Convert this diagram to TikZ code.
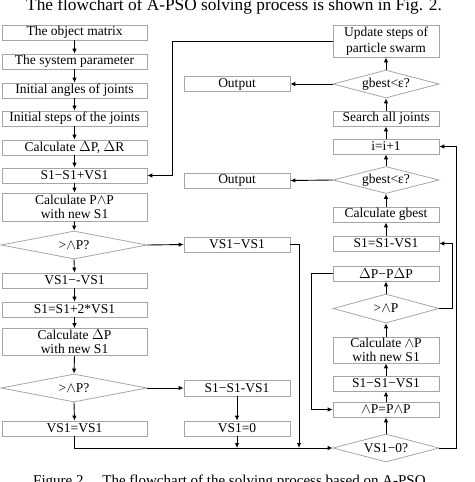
\documentclass[tikz,border=0pt]{standalone}
\usepackage{fontspec}
\setmainfont{Liberation Serif}
\usetikzlibrary{arrows.meta,shapes.geometric}
\begin{document}
\begin{tikzpicture}[x=1pt,y=-1pt,
  txt/.style={font=\fontsize{13.5}{14}\selectfont, text=black, align=center},
  box/.style={draw=gray!70, line width=0.8pt, inner sep=0pt, minimum width=145pt, minimum height=15pt, txt},
  mbox/.style={box, minimum width=106pt},
  dia/.style={diamond, draw=gray!70, line width=0.8pt, inner sep=0pt, minimum width=106pt, minimum height=28pt},
  arr/.style={-{Latex[length=5pt,width=4.5pt]}, line width=0.9pt, black},
  ln/.style={line width=0.9pt, black}]
\useasboundingbox (0,0) rectangle (474,482);
% title and caption (cropped in the reference)
\node[anchor=base west, inner sep=0pt, font=\fontsize{17.3}{20}\selectfont] (title) at (26,10)
  {The flowchart of A-PSO solving process is shown in Fig. 2.};
\node[anchor=base west, inner sep=0pt, font=\fontsize{15}{17}\selectfont] (cap) at (33,485)
  {Figure 2.\quad The flowchart of the solving process based on A-PSO};
% left column
\node[box] (a1) at (74.5,32.5) {The object matrix};
\node[box] (a2) at (74.5,61.5) {The system parameter};
\node[box] (a3) at (74.5,90.5) {Initial angles of joints};
\node[box] (a4) at (74.5,118.5) {Initial steps of the joints};
\node[box] (a5) at (74.5,147.5) {Calculate $\Delta$P, $\Delta$R};
\node[box] (a6) at (74.5,175.5) {S1−S1+VS1};
\node[box, minimum height=28pt] (a7) at (74.5,207) {Calculate P$\wedge$P\\with new S1};
\node[dia, minimum width=146pt, label={[txt]center:>$\wedge$P?}] (d1) at (74,245) {};
\node[box] (a8) at (74.5,280.5) {VS1−-VS1};
\node[box] (a9) at (74.5,309.5) {S1=S1+2*VS1};
\node[box, minimum height=27pt] (a10) at (74.5,342) {Calculate $\Delta$P\\with new S1};
\node[dia, minimum width=146pt, label={[txt]center:>$\wedge$P?}] (d2) at (74,388) {};
\node[box] (a11) at (74.5,428.5) {VS1=VS1};
% middle column
\node[mbox] (o1) at (237,84) {Output};
\node[mbox] (o2) at (237,180.5) {Output};
\node[mbox] (m1) at (237,244.5) {VS1−VS1};
\node[mbox, minimum height=16pt] (m2) at (237,388) {S1−S1-VS1};
\node[mbox] (m3) at (237,428.5) {VS1=0};
% right column
\node[mbox, minimum height=32pt, font=\fontsize{13.5}{16}\selectfont] (r1) at (386,41) {Update steps of\\particle swarm};
\node[dia, label={[txt]center:gbest<ε?}] (rd1) at (386,84) {};
\node[mbox] (r2) at (386,118.5) {Search all joints};
\node[mbox] (r3) at (386,146.5) {i=i+1};
\node[dia, minimum height=27pt, label={[txt]center:gbest<ε?}] (rd2) at (386,180) {};
\node[mbox] (r4) at (386,214.5) {Calculate gbest};
\node[mbox] (r5) at (386,243.5) {S1=S1-VS1};
\node[mbox] (r6) at (386,273.5) {$\Delta$P−P$\Delta$P};
\node[dia, minimum height=29pt, label={[txt]center:>$\wedge$P}] (rd3) at (386,308.5) {};
\node[mbox, minimum height=26pt] (r7) at (386,350) {Calculate $\wedge$P\\with new S1};
\node[mbox] (r8) at (386,383.5) {S1−S1−VS1};
\node[mbox] (r9) at (386,409.5) {$\wedge$P=P$\wedge$P};
\node[dia, label={[txt]center:VS1−0?}] (rd4) at (386,448) {};
% junction points
\coordinate (j1) at (237,448);
\coordinate (j2) at (299,448);
% left column arrows
\draw[arr] (a1) -- (a2);
\draw[arr] (a2) -- (a3);
\draw[arr] (a3) -- (a4);
\draw[arr] (a4) -- (a5);
\draw[arr] (a5) -- (a6);
\draw[arr] (a6) -- (a7);
\draw[arr] (a7.south) -- (d1.north);
\draw[arr] (d1.south) -- (a8.north);
\draw[arr] (a8) -- (a9);
\draw[arr] (a9) -- (a10);
\draw[arr] (a10.south) -- (d2.north);
\draw[arr] (d2.south) -- (a11.north);
\draw[arr] (d1.east) -- (m1.west);
\draw[arr] (d2.east) -- (m2.west);
\draw[arr] (m2) -- (m3);
\draw[arr] (m3.south) -- (j1);
\draw[arr] (m1.east) -| (j2);
\draw[arr] (a11.south) |- (rd4.west);
% right column arrows (upwards)
\draw[arr] (rd4.north) -- (r9.south);
\draw[arr] (r9) -- (r8);
\draw[arr] (r8) -- (r7);
\draw[arr] (r7.north) -- (rd3.south);
\draw[arr] (rd3.north) -- (r6.south);
\draw[arr] (r6.west) -- ++(-21,0) |- (r9.west);
\draw[arr] (rd3.east) -- ++(13,0) |- (r5.east);
\draw[arr] (r5) -- (r4);
\draw[arr] (r4.north) -- (rd2.south);
\draw[arr] (rd2.north) -- (r3.south);
\draw[arr] (r3) -- (r2);
\draw[arr] (r2.north) -- (rd1.south);
\draw[arr] (rd1.north) -- (r1.south);
\draw[arr] (rd1.west) -- (o1.east);
\draw[arr] (rd2.west) -- (o2.east);
\draw[arr] (rd4.east) -- ++(17,0) |- (r3.east);
\draw[arr] (r1.west) -- (172,41) |- (a6.east);
\end{tikzpicture}
\end{document}
